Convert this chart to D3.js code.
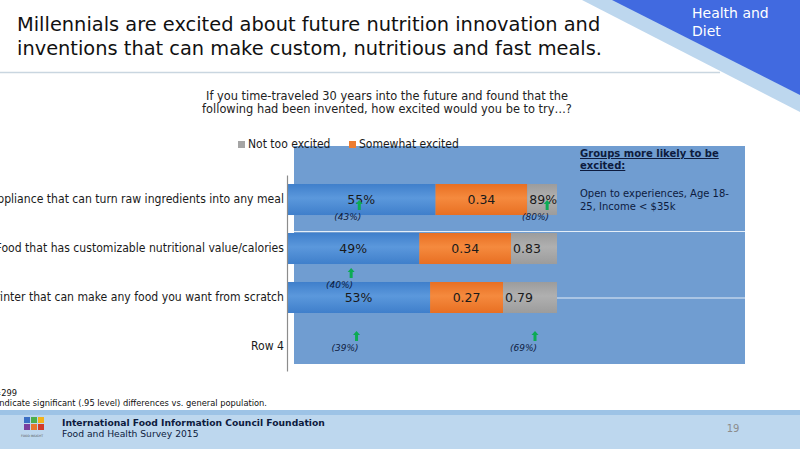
<!DOCTYPE html>
<html>
<head>
<meta charset="utf-8">
<script src="https://cdn.jsdelivr.net/npm/d3@7"></script>
<style>
  body { margin: 0; background: #fff; }
  svg { display: block; font-family: "DejaVu Sans", sans-serif; }
</style>
</head>
<body>
<script>
// chart values
var categories = [
  "Appliance that can turn raw ingredients into any meal",
  "Food that has customizable nutritional value/calories",
  "3D Printer that can make any food you want from scratch",
  "Row 4"
];
var veryExcited = [0.55, 0.49, 0.53, 0];
var somewhatExcited = [0.34, 0.34, 0.27, 0];
var notTooExcited = [0.11, 0.17, 0.20, 0];
var veryLabels = ["55%", "49%", "53%", null];
var somewhatLabels = ["0.34", "0.34", "0.27", null];
var totalLabels = ["89%", "0.83", "0.79", null];
var sigVery = ["(43%)", "(40%)", "(39%)", null];
var sigTotal = ["(80%)", null, "(69%)", null];
var legendItems = ["Not too excited", "Somewhat excited"];

var W = 800, H = 449;
var condensed = "'DejaVu Sans Condensed', 'DejaVu Sans', sans-serif";
var svg = d3.select("body").append("svg")
  .attr("width", W)
  .attr("height", H);

var defs = svg.append("defs");
function gloss(id, edge, mid) {
  var g = defs.append("linearGradient")
    .attr("id", id)
    .attr("x1", 0).attr("y1", 0).attr("x2", 0).attr("y2", 1);
  g.append("stop").attr("offset", "0%").attr("stop-color", edge);
  g.append("stop").attr("offset", "45%").attr("stop-color", mid);
  g.append("stop").attr("offset", "100%").attr("stop-color", edge);
}
gloss("gBlue", "#3f7fcb", "#5b98dc");
gloss("gOrange", "#e86f22", "#f58a3e");
gloss("gGray", "#9c9c9c", "#b0b0b0");

// ---- slide header ----
svg.append("line")
  .attr("x1", 0).attr("x2", 720)
  .attr("y1", 72.5).attr("y2", 72.5)
  .attr("stroke", "#c9d6e0").attr("stroke-width", 1.5);

svg.append("path")
  .attr("d", "M582,0 L800,0 L800,112 Z")
  .attr("fill", "#bdd7ee");
svg.append("path")
  .attr("d", "M612,0 L800,0 L800,95 Z")
  .attr("fill", "#416ae0");

svg.append("text")
  .attr("x", 692).attr("y", 18)
  .attr("fill", "#fff")
  .style("font-size", "14px")
  .selectAll("tspan")
  .data(["Health and", "Diet"])
  .enter().append("tspan")
  .attr("x", 692)
  .attr("dy", function(d, i) { return i ? 18 : 0; })
  .text(function(d) { return d; });

svg.append("text")
  .attr("y", 31)
  .style("font-size", "19.4px")
  .attr("fill", "#111")
  .selectAll("tspan")
  .data(["Millennials are excited about future nutrition innovation and",
         "inventions that can make custom, nutritious and fast meals."])
  .enter().append("tspan")
  .attr("x", 17)
  .attr("dy", function(d, i) { return i ? 24 : 0; })
  .text(function(d) { return d; });

svg.append("text")
  .attr("y", 100)
  .attr("text-anchor", "middle")
  .style("font-size", "11.4px")
  .attr("fill", "#222")
  .selectAll("tspan")
  .data(["If you time-traveled 30 years into the future and found that the",
         "following had been invented, how excited would you be to try\u2026?"])
  .enter().append("tspan")
  .attr("x", 387)
  .attr("dy", function(d, i) { return i ? 13 : 0; })
  .text(function(d) { return d; });

// ---- chart ----
var x = d3.scaleLinear().domain([0, 1]).range([287, 557]);
var y = d3.scaleBand().domain(categories).range([175, 371])
  .paddingInner(0.367).paddingOuter(0.184);

// blue text box behind the bars
svg.append("rect")
  .attr("x", 294).attr("y", 146)
  .attr("width", 451).attr("height", 218)
  .attr("fill", "#709dd1");

svg.append("line")
  .attr("x1", 294).attr("x2", 745)
  .attr("y1", 231.5).attr("y2", 231.5)
  .attr("stroke", "#e4eef8").attr("stroke-width", 1.2);
svg.append("line")
  .attr("x1", x(1)).attr("x2", 745)
  .attr("y1", 298).attr("y2", 298)
  .attr("stroke", "#e4eef8").attr("stroke-width", 1.2);

var rows = categories.map(function(c, i) {
  return { cat: c, very: veryExcited[i], somewhat: somewhatExcited[i], notToo: notTooExcited[i] };
});
var keys = ["very", "somewhat", "notToo"];
var fills = { very: "url(#gBlue)", somewhat: "url(#gOrange)", notToo: "url(#gGray)" };
var series = d3.stack().keys(keys)(rows);

svg.append("g").selectAll("g")
  .data(series)
  .enter().append("g")
  .attr("fill", function(d) { return fills[d.key]; })
  .selectAll("rect")
  .data(function(d) { return d; })
  .enter().append("rect")
  .filter(function(d) { return d[1] > d[0]; })
  .attr("x", function(d) { return x(d[0]); })
  .attr("y", function(d) { return y(d.data.cat); })
  .attr("width", function(d) { return x(d[1]) - x(d[0]); })
  .attr("height", y.bandwidth());

var labelG = svg.append("g")
  .style("font-size", "12.5px")
  .attr("fill", "#1a1a1a");
series.forEach(function(s) {
  s.forEach(function(d, i) {
    var txt = s.key === "very" ? veryLabels[i]
      : s.key === "somewhat" ? somewhatLabels[i] : totalLabels[i];
    if (!txt) return;
    var gray = s.key === "notToo";
    labelG.append("text")
      .attr("x", gray ? x(d[0]) + 2 : (x(d[0]) + x(d[1])) / 2)
      .attr("y", y(d.data.cat) + y.bandwidth() / 2 + 4.5)
      .attr("text-anchor", gray ? "start" : "middle")
      .text(txt);
  });
});

// significance arrows (general population in brackets)
var sigOffset = [16, 35, 49, 0];
var sigG = svg.append("g");
function drawSig(cx, top, label) {
  sigG.append("path")
    .attr("d", "M" + cx + "," + top + " l3.5,4 h-2 v6 h-3 v-6 h-2 Z")
    .attr("fill", "#0cab54");
  sigG.append("text")
    .attr("x", cx + 2)
    .attr("y", top + 20)
    .attr("text-anchor", "end")
    .style("font-size", "9px")
    .style("font-style", "italic")
    .attr("fill", "#0d1b3e")
    .text(label);
}
series.forEach(function(s) {
  s.forEach(function(d, i) {
    var top = y(d.data.cat) + sigOffset[i];
    if (s.key === "very" && sigVery[i])
      drawSig((x(d[0]) + x(d[1])) / 2 - 2, top, sigVery[i]);
    if (s.key === "notToo" && sigTotal[i])
      drawSig((x(d[0]) + x(d[1])) / 2 + 5, top, sigTotal[i]);
  });
});

// category axis
var yAxis = d3.axisLeft(y).tickSize(0).tickPadding(3);
var ax = svg.append("g")
  .attr("transform", "translate(287,0)")
  .call(yAxis);
ax.select(".domain").attr("stroke", "#8c8c8c").attr("stroke-width", 1.2);
ax.selectAll(".tick text")
  .style("font-family", condensed)
  .style("font-size", "12.1px")
  .attr("fill", "#1a1a1a");

// legend
var legColors = ["#a5a5a5", "#ed7d31"];
var legX = [238, 349];
var leg = svg.append("g").selectAll("g")
  .data(legendItems)
  .enter().append("g")
  .attr("transform", function(d, i) { return "translate(" + legX[i] + ",140)"; });
leg.append("rect")
  .attr("width", 7).attr("height", 7).attr("y", 1)
  .attr("fill", function(d, i) { return legColors[i]; });
leg.append("text")
  .attr("x", 10).attr("y", 8)
  .style("font-family", condensed)
  .style("font-size", "12px")
  .attr("fill", "#1a1a1a")
  .text(function(d) { return d; });

// text box content
var box = svg.append("g")
  .style("font-size", "10px")
  .attr("fill", "#0d1b3e");
["Groups more likely to be", "excited:"].forEach(function(t, i) {
  box.append("text")
    .attr("x", 580).attr("y", 157 + i * 12)
    .style("font-weight", "bold")
    .style("text-decoration", "underline")
    .text(t);
});
["Open to experiences, Age 18-", "25, Income < $35k"].forEach(function(t, i) {
  box.append("text")
    .attr("x", 580).attr("y", 197 + i * 13)
    .text(t);
});

// footnotes (the slide cuts them at its left edge)
svg.append("text")
  .attr("x", 17).attr("y", 396)
  .attr("text-anchor", "end")
  .style("font-size", "8.3px")
  .attr("fill", "#111")
  .text("n=299");
svg.append("text")
  .attr("x", 267).attr("y", 406)
  .attr("text-anchor", "end")
  .style("font-size", "8.3px")
  .attr("fill", "#111")
  .text("Arrows indicate significant (.95 level) differences vs. general population.");

// footer
svg.append("rect")
  .attr("x", 0).attr("y", 410).attr("width", W).attr("height", 39)
  .attr("fill", "#bdd7ee");
svg.append("rect")
  .attr("x", 0).attr("y", 410).attr("width", W).attr("height", 5)
  .attr("fill", "#9dc3e6");

var logoColors = ["#3b6fc4", "#4cae4c", "#f2b21c", "#7a3e9d", "#e8772e", "#d23a2a"];
svg.append("g").selectAll("rect")
  .data(logoColors)
  .enter().append("rect")
  .attr("x", function(d, i) { return 24 + (i % 3) * 7; })
  .attr("y", function(d, i) { return 417 + Math.floor(i / 3) * 7; })
  .attr("width", 6).attr("height", 6)
  .attr("fill", function(d) { return d; });
svg.append("text")
  .attr("x", 32).attr("y", 437)
  .attr("text-anchor", "middle")
  .style("font-size", "3px")
  .attr("fill", "#555")
  .text("FOOD INSIGHT");

svg.append("text")
  .attr("x", 62).attr("y", 426)
  .style("font-size", "9.2px")
  .style("font-weight", "bold")
  .attr("fill", "#0d1b3e")
  .text("International Food Information Council Foundation");
svg.append("text")
  .attr("x", 62).attr("y", 437)
  .style("font-size", "9.2px")
  .attr("fill", "#0d1b3e")
  .text("Food and Health Survey 2015");

svg.append("text")
  .attr("x", 733).attr("y", 432)
  .attr("text-anchor", "middle")
  .style("font-size", "10px")
  .attr("fill", "#8c8c8c")
  .text("19");
</script>
</body>
</html>
